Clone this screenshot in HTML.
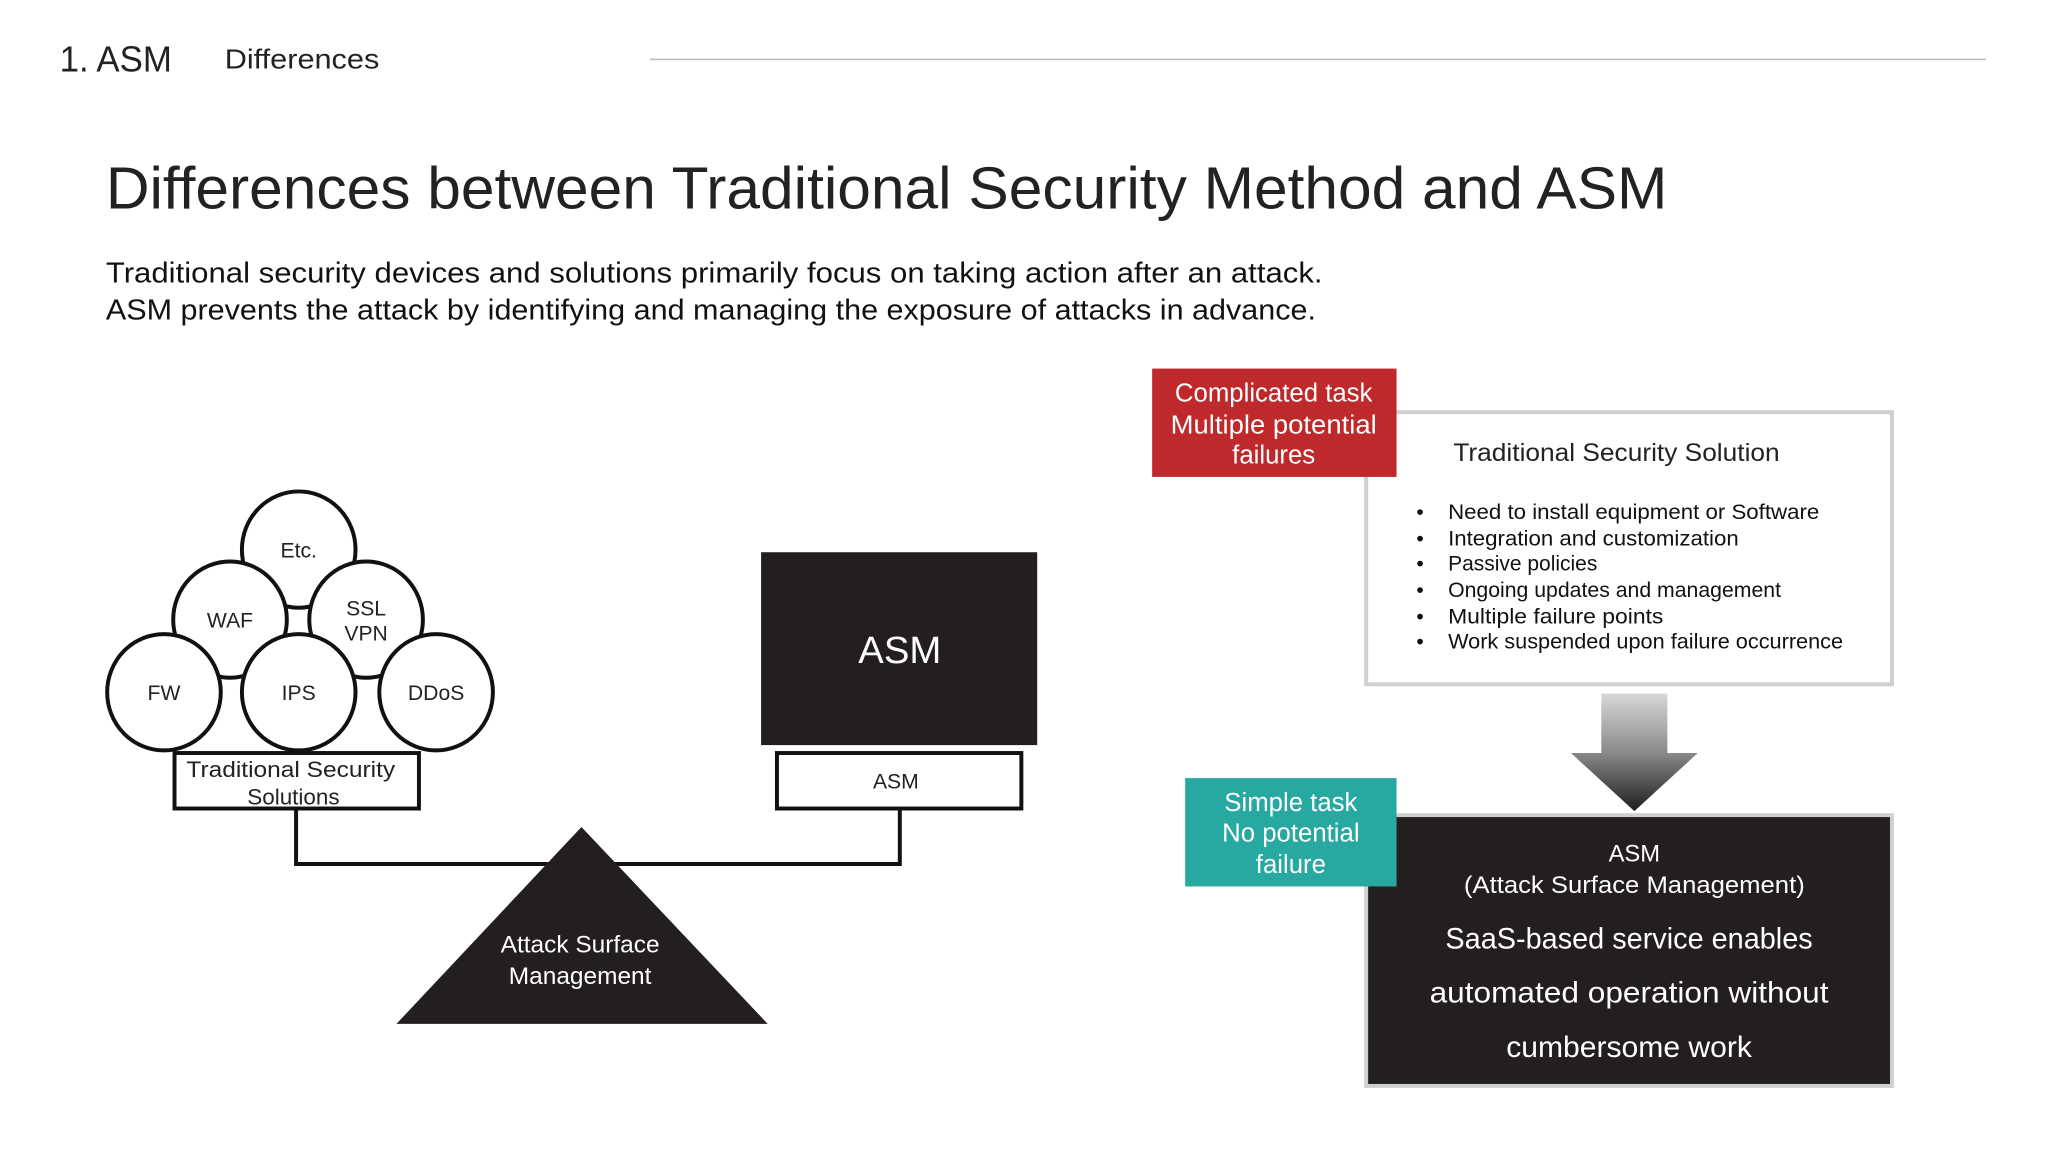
<!DOCTYPE html>
<html><head><meta charset="utf-8"><style>
html,body{margin:0;padding:0;background:#fff;}
svg{display:block;}
text{font-family:"Liberation Sans",sans-serif;}
</style></head><body>
<svg width="2048" height="1152" viewBox="0 0 1550 872" xmlns="http://www.w3.org/2000/svg">
<defs>
<linearGradient id="ag" x1="0" y1="0" x2="0" y2="1">
<stop offset="0" stop-color="#d8d8d8"/><stop offset="0.5" stop-color="#8a8a8a"/><stop offset="1" stop-color="#1e1e1e"/>
</linearGradient>
</defs>
<rect width="1550" height="872" fill="#fff"/>
<text x="45" y="54" font-size="27" fill="#222" textLength="85" lengthAdjust="spacingAndGlyphs">1. ASM</text>
<text x="170" y="52" font-size="21" fill="#222" textLength="117" lengthAdjust="spacingAndGlyphs">Differences</text>
<line x1="492" y1="45" x2="1503" y2="45" stroke="#bbb" stroke-width="1.2"/>
<text x="80" y="158" font-size="45" fill="#222" textLength="1182" lengthAdjust="spacingAndGlyphs">Differences between Traditional Security Method and ASM</text>
<text x="80" y="214" font-size="21.5" fill="#111" textLength="921" lengthAdjust="spacingAndGlyphs">Traditional security devices and solutions primarily focus on taking action after an attack.</text>
<text x="80" y="242" font-size="21.5" fill="#111" textLength="916" lengthAdjust="spacingAndGlyphs">ASM prevents the attack by identifying and managing the exposure of attacks in advance.</text>

<!-- circles -->
<g fill="#fff" stroke="#111" stroke-width="3">
<ellipse cx="226" cy="416" rx="43" ry="44"/>
<ellipse cx="174" cy="469" rx="43" ry="44"/>
<ellipse cx="277" cy="469" rx="43" ry="44"/>
<ellipse cx="124" cy="524" rx="43" ry="44"/>
<ellipse cx="226" cy="524" rx="43" ry="44"/>
<ellipse cx="330" cy="524" rx="43" ry="44"/>
</g>
<g font-size="16" fill="#222" text-anchor="middle">
<text x="226" y="422">Etc.</text>
<text x="174" y="475">WAF</text>
<text x="277" y="466">SSL</text>
<text x="277" y="485">VPN</text>
<text x="124" y="530">FW</text>
<text x="226" y="530">IPS</text>
<text x="330" y="530">DDoS</text>
</g>
<rect x="132" y="570" width="185" height="42" fill="#fff" stroke="#111" stroke-width="3"/>
<text x="220" y="588" font-size="17" fill="#222" text-anchor="middle" textLength="158" lengthAdjust="spacingAndGlyphs">Traditional Security</text>
<text x="222" y="609" font-size="17" fill="#222" text-anchor="middle">Solutions</text>
<rect x="576" y="418" width="209" height="146" fill="#231f20"/>
<text x="681" y="502" font-size="29" fill="#fff" text-anchor="middle">ASM</text>
<rect x="588" y="570" width="185" height="42" fill="#fff" stroke="#111" stroke-width="3"/>
<text x="678" y="597" font-size="16" fill="#222" text-anchor="middle">ASM</text>
<polyline points="224,612 224,654 681,654 681,612" fill="none" stroke="#111" stroke-width="3"/>
<polygon points="440,626 300,775 581,775" fill="#231f20"/>
<text x="439" y="721" font-size="18.5" fill="#fff" text-anchor="middle">Attack Surface</text>
<text x="439" y="745" font-size="18.5" fill="#fff" text-anchor="middle">Management</text>

<!-- right -->
<rect x="1034" y="312" width="398" height="206" fill="#fff" stroke="#d0d0d0" stroke-width="3"/>
<rect x="872" y="279" width="185" height="82" fill="#c0292b"/>
<g font-size="19.5" fill="#fff" text-anchor="middle">
<text x="964" y="304">Complicated task</text>
<text x="964" y="328" textLength="156" lengthAdjust="spacingAndGlyphs">Multiple potential</text>
<text x="964" y="351">failures</text>
</g>
<text x="1100" y="349" font-size="19" fill="#222" textLength="247" lengthAdjust="spacingAndGlyphs">Traditional Security Solution</text>
<g font-size="16" fill="#111">
<text x="1072" y="393">•</text><text x="1096" y="393" textLength="281" lengthAdjust="spacingAndGlyphs">Need to install equipment or Software</text>
<text x="1072" y="413">•</text><text x="1096" y="413" textLength="220" lengthAdjust="spacingAndGlyphs">Integration and customization</text>
<text x="1072" y="432">•</text><text x="1096" y="432" textLength="113" lengthAdjust="spacingAndGlyphs">Passive policies</text>
<text x="1072" y="452">•</text><text x="1096" y="452" textLength="252" lengthAdjust="spacingAndGlyphs">Ongoing updates and management</text>
<text x="1072" y="472">•</text><text x="1096" y="472" textLength="163" lengthAdjust="spacingAndGlyphs">Multiple failure points</text>
<text x="1072" y="491">•</text><text x="1096" y="491" textLength="299" lengthAdjust="spacingAndGlyphs">Work suspended upon failure occurrence</text>
</g>
<polygon points="1212,525 1262,525 1262,570 1285,570 1237,614 1189,570 1212,570" fill="url(#ag)"/>
<rect x="1034" y="617" width="398" height="205" fill="#231f20" stroke="#d0d0d0" stroke-width="3"/>
<rect x="897" y="589" width="160" height="82" fill="#27a8a0"/>
<g font-size="19.5" fill="#fff" text-anchor="middle">
<text x="977" y="614">Simple task</text>
<text x="977" y="637">No potential</text>
<text x="977" y="661">failure</text>
</g>
<g fill="#fff" text-anchor="middle">
<text x="1237" y="652" font-size="18">ASM</text>
<text x="1237" y="676" font-size="18" textLength="258" lengthAdjust="spacingAndGlyphs">(Attack Surface Management)</text>
<text x="1233" y="718" font-size="22.5" textLength="278" lengthAdjust="spacingAndGlyphs">SaaS-based service enables</text>
<text x="1233" y="759" font-size="22.5" textLength="302" lengthAdjust="spacingAndGlyphs">automated operation without</text>
<text x="1233" y="800" font-size="22.5" textLength="186" lengthAdjust="spacingAndGlyphs">cumbersome work</text>
</g>
</svg>
</body></html>
